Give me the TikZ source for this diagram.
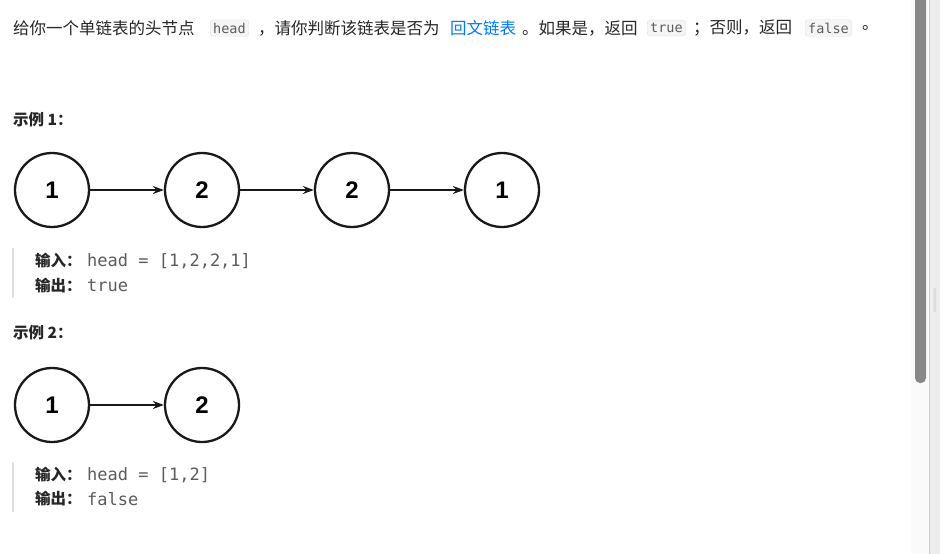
\documentclass[tikz,border=0pt]{standalone}
\usepackage{fontspec}
\setmainfont{Noto Sans CJK SC}
\setmonofont{DejaVu Sans Mono}
\newfontfamily\numfont{Liberation Sans}
\usetikzlibrary{arrows.meta}
\definecolor{txt}{HTML}{262626}
\definecolor{code}{HTML}{5C5C5C}
\definecolor{lnk}{HTML}{007AFF}
\begin{document}
\begin{tikzpicture}[x=1pt,y=-1pt,
  txtn/.style={anchor=west,inner sep=0pt,text=txt,font=\fontsize{16.5}{18}\selectfont},
  bld/.style={anchor=west,inner sep=0pt,text=txt,font=\fontsize{15.5}{18}\selectfont\bfseries},
  codebox/.style={anchor=west,draw=black!10,fill=black!4,rounded corners=3pt,inner xsep=3pt,inner ysep=3pt,text=code,font=\ttfamily\fontsize{13.5}{15}\selectfont},
  mono/.style={anchor=west,inner sep=0pt,text=code,font=\ttfamily\fontsize{17}{18}\selectfont},
  ln/.style={circle,draw=black!90,line width=2.3pt,minimum size=74pt,inner sep=0pt,font=\numfont\bfseries\fontsize{24}{26}\selectfont},
  arr/.style={-{Stealth[length=11pt,width=8pt]},line width=1.8pt,black!90},
  bar/.style={draw=black!12,line width=2.5pt}]
\fill[white] (0,0) rectangle (948,554);
\useasboundingbox (0,0) rectangle (948,554);
% top line
\node[txtn] (t1) at (13,28) {给你一个单链表的头节点};
\node[codebox] (c1) at (210,28) {head};
\node[txtn] (t2) at (258,28) {，请你判断该链表是否为};
\node[txtn,text=lnk] (t3) at (450,28) {回文链表};
\node[txtn] (t4) at (522,28) {。如果是，返回};
\node[codebox] (c2) at (647,28) {true};
\node[txtn] (t5) at (693,28) {；否则，返回};
\node[codebox] (c3) at (805,28) {false};
\node[txtn] (t6) at (862,28) {。};
% example 1
\node[bld] (e1) at (13,120) {示例 1：};
\node[ln] (a1) at (52,190) {1};
\node[ln] (a2) at (202,190) {2};
\node[ln] (a3) at (352,190) {2};
\node[ln] (a4) at (502,190) {1};
\draw[arr] (a1) -- (a2);
\draw[arr] (a2) -- (a3);
\draw[arr] (a3) -- (a4);
\coordinate (b1s) at (13,248); \coordinate (b1e) at (13,298);
\draw[bar] (b1s) -- (b1e);
\node[bld] (i1) at (35,261) {输入：};
\node[mono] (i1v) at (87,261) {head = [1,2,2,1]};
\node[bld] (o1) at (35,286) {输出：};
\node[mono] (o1v) at (87,286) {true};
% example 2
\node[bld] (e2) at (13,333) {示例 2：};
\node[ln] (d1) at (52,405) {1};
\node[ln] (d2) at (202,405) {2};
\draw[arr] (d1) -- (d2);
\coordinate (b2s) at (13,462); \coordinate (b2e) at (13,512);
\draw[bar] (b2s) -- (b2e);
\node[bld] (i2) at (35,475) {输入：};
\node[mono] (i2v) at (87,475) {head = [1,2]};
\node[bld] (o2) at (35,499) {输出：};
\node[mono] (o2v) at (87,499) {false};
% scrollbars
\fill[black!2] (911,0) rectangle (929,554);
\fill[black!47,rounded corners=5pt] (915,-8) rectangle (926,383);
\fill[black!7] (930,0) rectangle (940,554);
\draw[black!20,line width=0.8pt] (929.5,0) -- (929.5,554);
\fill[black!14,rounded corners=1pt] (933.5,288) rectangle (936,312);
\end{tikzpicture}
\end{document}
